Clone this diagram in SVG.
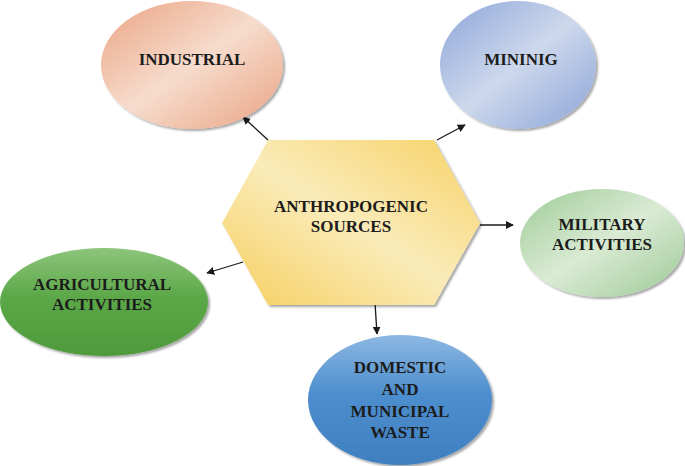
<svg xmlns="http://www.w3.org/2000/svg" width="685" height="466" viewBox="0 0 685 466">
<defs>
<linearGradient id="gInd" x1="0" y1="0" x2="1" y2="1"><stop offset="0" stop-color="#EBA383"/><stop offset="0.5" stop-color="#F6DCCD"/><stop offset="1" stop-color="#EAA282"/></linearGradient>
<linearGradient id="gMin" x1="0" y1="0" x2="1" y2="1"><stop offset="0" stop-color="#8CA5D8"/><stop offset="0.5" stop-color="#CDD8EC"/><stop offset="1" stop-color="#8AA3D6"/></linearGradient>
<linearGradient id="gHex" x1="0" y1="1" x2="1" y2="0"><stop offset="0" stop-color="#F5CF5E"/><stop offset="0.5" stop-color="#FAEBB9"/><stop offset="1" stop-color="#F6D266"/></linearGradient>
<linearGradient id="gMil" x1="0" y1="0" x2="1" y2="1"><stop offset="0" stop-color="#9DCB97"/><stop offset="0.5" stop-color="#DAEBD4"/><stop offset="1" stop-color="#9CC996"/></linearGradient>
<linearGradient id="gAgr" x1="0" y1="0" x2="0" y2="1"><stop offset="0" stop-color="#8DC57C"/><stop offset="0.45" stop-color="#5CA848"/><stop offset="1" stop-color="#4E9A3C"/></linearGradient>
<linearGradient id="gDom" x1="0" y1="0" x2="0" y2="1"><stop offset="0" stop-color="#8DB8E2"/><stop offset="0.45" stop-color="#4D8ECE"/><stop offset="1" stop-color="#3F7FC0"/></linearGradient>
<filter id="sh" x="-10%" y="-10%" width="125%" height="125%"><feDropShadow dx="2" dy="2" stdDeviation="1.2" flood-color="#000" flood-opacity="0.35"/></filter>
<marker id="ah" viewBox="0 0 10 10" refX="9" refY="5" markerWidth="8" markerHeight="8" markerUnits="userSpaceOnUse" orient="auto"><path d="M0,0 L10,5 L0,10 z" fill="#1a1a1a"/></marker>
<style>
text{font-family:"Liberation Serif","Times New Roman",serif;font-weight:bold;font-size:17px;fill:#1c1c1c;text-anchor:middle}
.c{stroke:#1a1a1a;stroke-width:1.3;fill:none;marker-end:url(#ah)}
</style>
</defs>
<g id="connectors">
<line class="c" x1="268" y1="140" x2="243" y2="117"/>
<line class="c" x1="437" y1="140" x2="465" y2="125"/>
<line class="c" x1="480" y1="225" x2="513" y2="225"/>
<line class="c" x1="243" y1="262" x2="207" y2="273"/>
<line class="c" x1="375" y1="303" x2="377" y2="334"/>
</g>
<g id="industrial"><ellipse cx="192" cy="65" rx="91" ry="64" fill="url(#gInd)" filter="url(#sh)"/><text x="192" y="65">INDUSTRIAL</text></g>
<g id="mining"><ellipse cx="518" cy="65" rx="78" ry="64" fill="url(#gMin)" filter="url(#sh)"/><text x="521" y="65">MININIG</text></g>
<g id="anthropogenic"><polygon points="268,140 434,140 480,223 434,305 268,305 222,223" fill="url(#gHex)" filter="url(#sh)"/><text x="351" y="212">ANTHROPOGENIC</text><text x="351" y="232">SOURCES</text></g>
<g id="military"><ellipse cx="602" cy="243" rx="82" ry="54" fill="url(#gMil)" filter="url(#sh)"/><text x="602" y="230">MILITARY</text><text x="602" y="250">ACTIVITIES</text></g>
<g id="agricultural"><ellipse cx="104" cy="302" rx="104" ry="54" fill="url(#gAgr)" filter="url(#sh)"/><text x="102" y="290">AGRICULTURAL</text><text x="102" y="310">ACTIVITIES</text></g>
<g id="domestic"><ellipse cx="400" cy="400" rx="92" ry="65" fill="url(#gDom)" filter="url(#sh)"/><text x="400" y="373">DOMESTIC</text><text x="400" y="395">AND</text><text x="400" y="417">MUNICIPAL</text><text x="400" y="438">WASTE</text></g>
</svg>
